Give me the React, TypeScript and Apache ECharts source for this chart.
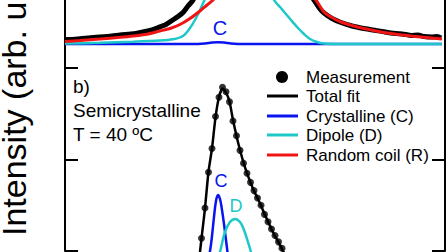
import React, { useEffect, useRef } from "react";
import * as echarts from "echarts";

// ---------- Upper panel (a) : values in arbitrary units ----------
const upperMeasX = [0, 0.7, 1.5, 2.3, 3.1, 3.9, 4.7, 5.5, 6.3, 7.1, 7.9, 8.7, 9.5, 10.1, 10.7, 11.3, 11.8, 12.3, 12.8, 13.3, 14.5, 16.5, 18.5, 20.5, 22.5, 24.0, 24.9, 25.5, 25.9, 26.7, 27.6, 28.7, 29.9, 31.1, 31.9, 32.6, 33.5, 34.1, 34.6, 35.3, 35.9, 36.7, 37.2, 37.6];
const upperMeasY = [0.45, 0.46, 0.52, 0.6, 0.68, 0.72, 0.8, 0.9, 0.98, 1.06, 1.22, 1.42, 1.72, 1.95, 2.35, 2.75, 3.15, 3.8, 4.4, 5.6, 8.5, 14, 17, 14, 9, 5.6, 4.4, 3.5, 3.1, 2.55, 2.15, 1.8, 1.55, 1.35, 1.22, 1.1, 1.02, 0.95, 0.85, 0.9, 0.75, 0.7, 0.75, 0.6];

const upperRX = [0, 1.5, 3.5, 5.5, 6.8, 8.0, 9.5, 10.5, 11.5, 12.5, 13.5, 14.2, 14.8, 15.5, 17.0, 18.5, 20.0, 22.0, 23.5, 24.3, 25.1, 25.9, 26.7, 27.6, 28.7, 29.9, 31.1, 32.6, 34.6, 35.9, 37.7];
const upperRY = [0.25, 0.35, 0.5, 0.67, 0.8, 0.95, 1.3, 1.55, 1.95, 2.55, 3.3, 3.9, 4.4, 5.2, 7.5, 10, 10, 8, 6.2, 5.3, 4.4, 3.2, 2.65, 2.2, 1.85, 1.55, 1.3, 1.05, 0.8, 0.67, 0.5];

const upperDX = [0, 3.5, 6.8, 9.5, 10.8, 11.8, 12.5, 13.0, 13.5, 13.9, 14.5, 16.0, 18.0, 19.3, 20.2, 20.9, 21.5, 22.6, 23.3, 23.9, 24.5, 25.2, 25.9, 27.0, 28.5, 37.7];
const upperDY = [0.05, 0.12, 0.22, 0.34, 0.47, 0.8, 1.6, 2.4, 3.4, 4.3, 5.9, 14, 18, 10, 6, 4.4, 3.7, 2.4, 1.6, 1.0, 0.5, 0.2, 0.05, 0, 0, 0];

const upperCX = [0, 12.5, 14.0, 14.7, 15.3, 15.9, 16.6, 18.0, 37.7];
const upperCY = [0, 0, 0.05, 0.15, 0.18, 0.15, 0.05, 0, 0];

// ---------- Lower panel (b) ----------
const lowerFitX = [13.4, 13.65, 14.0, 14.35, 14.7, 15.05, 15.4, 15.75, 16.1, 16.45, 16.8, 17.15, 17.5, 17.85, 18.2, 18.55, 18.9, 19.25, 19.6, 19.95, 20.3, 20.65, 21.0, 21.35, 21.7, 22.05, 22.3];
const lowerFitY = [-0.11, 0.137, 0.467, 0.869, 1.12, 1.46, 1.683, 1.776, 1.732, 1.634, 1.432, 1.257, 1.104, 0.967, 0.852, 0.749, 0.656, 0.579, 0.497, 0.404, 0.322, 0.24, 0.164, 0.098, 0.022, -0.049, -0.11];

const lowerMeasX = [13.65, 14.0, 14.35, 14.7, 15.05, 15.4, 15.75, 16.1, 16.45, 16.8, 17.15, 17.5, 17.85, 18.2, 18.55, 18.9, 19.25, 19.6, 19.95, 20.3, 20.65, 21.0, 21.35, 21.7, 22.05];
const lowerMeasY = [0.14, 0.47, 0.86, 1.12, 1.47, 1.68, 1.79, 1.74, 1.63, 1.42, 1.26, 1.1, 0.96, 0.85, 0.75, 0.66, 0.58, 0.5, 0.4, 0.32, 0.24, 0.17, 0.1, 0.03, -0.05];

const lowerCX = [14.3, 14.5, 14.7, 14.9, 15.1, 15.3, 15.5, 15.7, 15.9, 16.1, 16.3];
const lowerCY = [-0.077, 0, 0.164, 0.372, 0.546, 0.612, 0.568, 0.448, 0.295, 0.12, -0.055];

const lowerDX = [15.4, 15.6, 16.0, 16.5, 17.0, 17.5, 17.9, 18.3, 18.6, 18.8];
const lowerDY = [-0.055, 0.033, 0.208, 0.317, 0.35, 0.317, 0.23, 0.098, -0.011, -0.087];

const legendNames = ["Measurement", "Total fit", "Crystalline (C)", "Dipole (D)", "Random coil (R)"];
const annotationLines = ["b)", "Semicrystalline", "T = 40 ºC"];
const yTitle = "Intensity (arb. units)";

const BLACK = "#000000";
const BLUE = "#0a14f0";
const CYAN = "#1ec8c8";
const RED = "#f01414";
const FONT = '"Liberation Sans", Arial, Helvetica, sans-serif';

const zip = (xs: number[], ys: number[]) => xs.map((x, i) => [x, ys[i]]);

export default function App() {
  const ref = useRef<HTMLDivElement>(null);
  useEffect(() => {
    if (!ref.current) return;
    const chart = echarts.init(ref.current, undefined, { renderer: "svg" });

    const axisLine = { show: true, lineStyle: { color: BLACK, width: 2 } };
    const lineSeries = (name: string, xi: number, data: number[][], color: string, width: number, smooth: number | boolean) => ({
      name,
      type: "line",
      xAxisIndex: xi,
      yAxisIndex: xi * 2,
      data,
      showSymbol: false,
      symbol: "none",
      smooth,
      clip: true,
      lineStyle: { color, width },
      itemStyle: { color },
      z: 2,
    });

    const legendRowsY = [77, 96, 116, 135, 155];
    const legendColors = [BLACK, BLACK, BLUE, CYAN, RED];
    const legendGraphics: any[] = [];
    legendNames.forEach((name, i) => {
      if (i === 0) {
        legendGraphics.push({ type: "circle", shape: { cx: 282, cy: legendRowsY[i], r: 6 }, style: { fill: BLACK } });
      } else {
        legendGraphics.push({
          type: "line",
          shape: { x1: 267, y1: legendRowsY[i], x2: 298, y2: legendRowsY[i] },
          style: { stroke: legendColors[i], lineWidth: 3 },
        });
      }
      legendGraphics.push({
        type: "text",
        x: 306,
        y: legendRowsY[i],
        style: { text: name, font: `17px ${FONT}`, fill: BLACK, textAlign: "left", textVerticalAlign: "middle", verticalAlign: "middle" },
      });
    });

    const annotY = [86, 110, 134];
    const annotGraphics = annotationLines.map((t, i) => ({
      type: "text",
      x: 73,
      y: annotY[i],
      style: { text: t, font: `19px ${FONT}`, fill: BLACK, textAlign: "left", textVerticalAlign: "middle", verticalAlign: "middle" },
    }));

    const option: any = {
      animation: false,
      backgroundColor: "#ffffff",
      grid: [
        { left: 65, right: 3, top: 0, height: 68 },
        { left: 65, right: 3, top: 68, height: 183 },
      ],
      xAxis: [
        { type: "value", gridIndex: 0, min: 0, max: 38, show: false },
        { type: "value", gridIndex: 1, min: 0, max: 38, show: false },
      ],
      yAxis: [
        { type: "value", gridIndex: 0, min: -2.4, max: 4.4, position: "left", axisLine, axisTick: { show: false }, axisLabel: { show: false }, splitLine: { show: false } },
        { type: "value", gridIndex: 0, min: -2.4, max: 4.4, position: "right", axisLine, axisTick: { show: false }, axisLabel: { show: false }, splitLine: { show: false } },
        {
          type: "value", gridIndex: 1, min: 0, max: 2, interval: 1, position: "left", axisLine,
          axisTick: { show: true, inside: true, length: 13, lineStyle: { color: BLACK, width: 2 } },
          axisLabel: { show: false }, splitLine: { show: false },
        },
        {
          type: "value", gridIndex: 1, min: 0, max: 2, interval: 1, position: "right", axisLine,
          axisTick: { show: true, inside: true, length: 13, lineStyle: { color: BLACK, width: 2 } },
          axisLabel: { show: false }, splitLine: { show: false },
        },
      ],
      series: [
        lineSeries("Measurement", 0, zip(upperMeasX, upperMeasY), BLACK, 5, 0.3),
        lineSeries("Crystalline (C)", 0, zip(upperCX, upperCY), BLUE, 2.5, 0.4),
        lineSeries("Dipole (D)", 0, zip(upperDX, upperDY), CYAN, 2.5, 0.3),
        lineSeries("Random coil (R)", 0, zip(upperRX, upperRY), RED, 3, 0.3),
        lineSeries("Crystalline (C)", 1, zip(lowerCX, lowerCY), BLUE, 2.5, 0.4),
        lineSeries("Dipole (D)", 1, zip(lowerDX, lowerDY), CYAN, 2.5, 0.4),
        lineSeries("Total fit", 1, zip(lowerFitX, lowerFitY), BLACK, 2.5, 0.2),
        {
          name: "Measurement",
          type: "scatter",
          xAxisIndex: 1,
          yAxisIndex: 2,
          data: zip(lowerMeasX, lowerMeasY),
          symbol: "circle",
          symbolSize: 7,
          itemStyle: { color: BLACK },
          z: 3,
        },
      ],
      graphic: [
        {
          type: "text",
          x: 14,
          y: 236,
          rotation: Math.PI / 2,
          style: { text: yTitle, font: `34px ${FONT}`, fill: BLACK, textAlign: "left", textVerticalAlign: "middle", verticalAlign: "middle" },
        },
        ...annotGraphics,
        ...legendGraphics,
        { type: "text", x: 220, y: 27.5, style: { text: "C", font: `20px ${FONT}`, fill: BLUE, textAlign: "center", textVerticalAlign: "middle", verticalAlign: "middle" } },
        { type: "text", x: 221, y: 181, style: { text: "C", font: `18px ${FONT}`, fill: BLUE, textAlign: "center", textVerticalAlign: "middle", verticalAlign: "middle" } },
        { type: "text", x: 236, y: 206, style: { text: "D", font: `18px ${FONT}`, fill: CYAN, textAlign: "center", textVerticalAlign: "middle", verticalAlign: "middle" } },
      ],
    };
    chart.setOption(option);
    return () => chart.dispose();
  }, []);
  return <div ref={ref} style={{ position: "fixed", left: 0, top: 0, width: 448, height: 252, background: "#fff" }} />;
}
